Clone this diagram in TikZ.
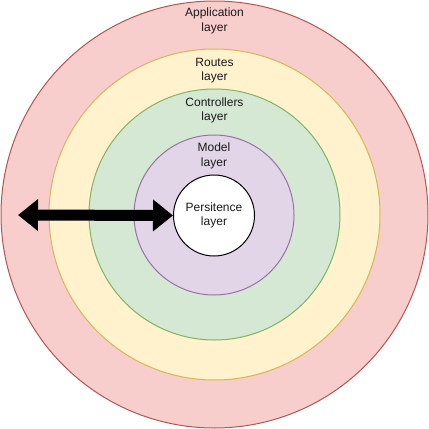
\documentclass[tikz,border=0pt]{standalone}
\usepackage{fontspec}
\setmainfont{Liberation Sans}
\usetikzlibrary{arrows.meta}
\definecolor{redF}{HTML}{F8CECC}\definecolor{redS}{HTML}{B85450}
\definecolor{yelF}{HTML}{FFF2CC}\definecolor{yelS}{HTML}{D6B656}
\definecolor{grnF}{HTML}{D5E8D4}\definecolor{grnS}{HTML}{82B366}
\definecolor{purF}{HTML}{E1D5E7}\definecolor{purS}{HTML}{9673A6}
\definecolor{txt}{HTML}{1A1A1A}
\tikzset{
  ring/.style={circle, line width=0.75pt, inner sep=0pt},
  lbl/.style={align=center, font=\fontsize{9pt}{10.8pt}\selectfont, text=txt, inner sep=0pt},
}
\begin{document}
\begin{tikzpicture}[x=0.75pt,y=-0.75pt]
\useasboundingbox (0,0) rectangle (429,429);
\node[ring, draw=redS, fill=redF, minimum size=427*0.75pt] (app) at (214.5,214.5) {};
\node[ring, draw=yelS, fill=yelF, minimum size=331*0.75pt] (rou) at (214.5,214.5) {};
\node[ring, draw=grnS, fill=grnF, minimum size=251*0.75pt] (con) at (214.5,214.5) {};
\node[ring, draw=purS, fill=purF, minimum size=160*0.75pt] (mod) at (214,215) {};
\node[ring, draw=black, fill=white, minimum size=81*0.75pt] (per) at (214,215.5) {};
\node[lbl] (tapp) at (214.5,21) {Application\\layer};
\node[lbl] (trou) at (214.5,70.5) {Routes\\layer};
\node[lbl] (tcon) at (214.5,110.5) {Controllers\\layer};
\node[lbl] (tmod) at (214,156) {Model\\layer};
\node[lbl] (tper) at (214,215.5) {Persitence\\layer};
\coordinate (L) at (18,215);
\draw[line width=8.25pt, {Triangle[length=15pt,width=23pt]}-{Triangle[length=15pt,width=23pt]}] (L) -- (per.west);
\end{tikzpicture}
\end{document}
